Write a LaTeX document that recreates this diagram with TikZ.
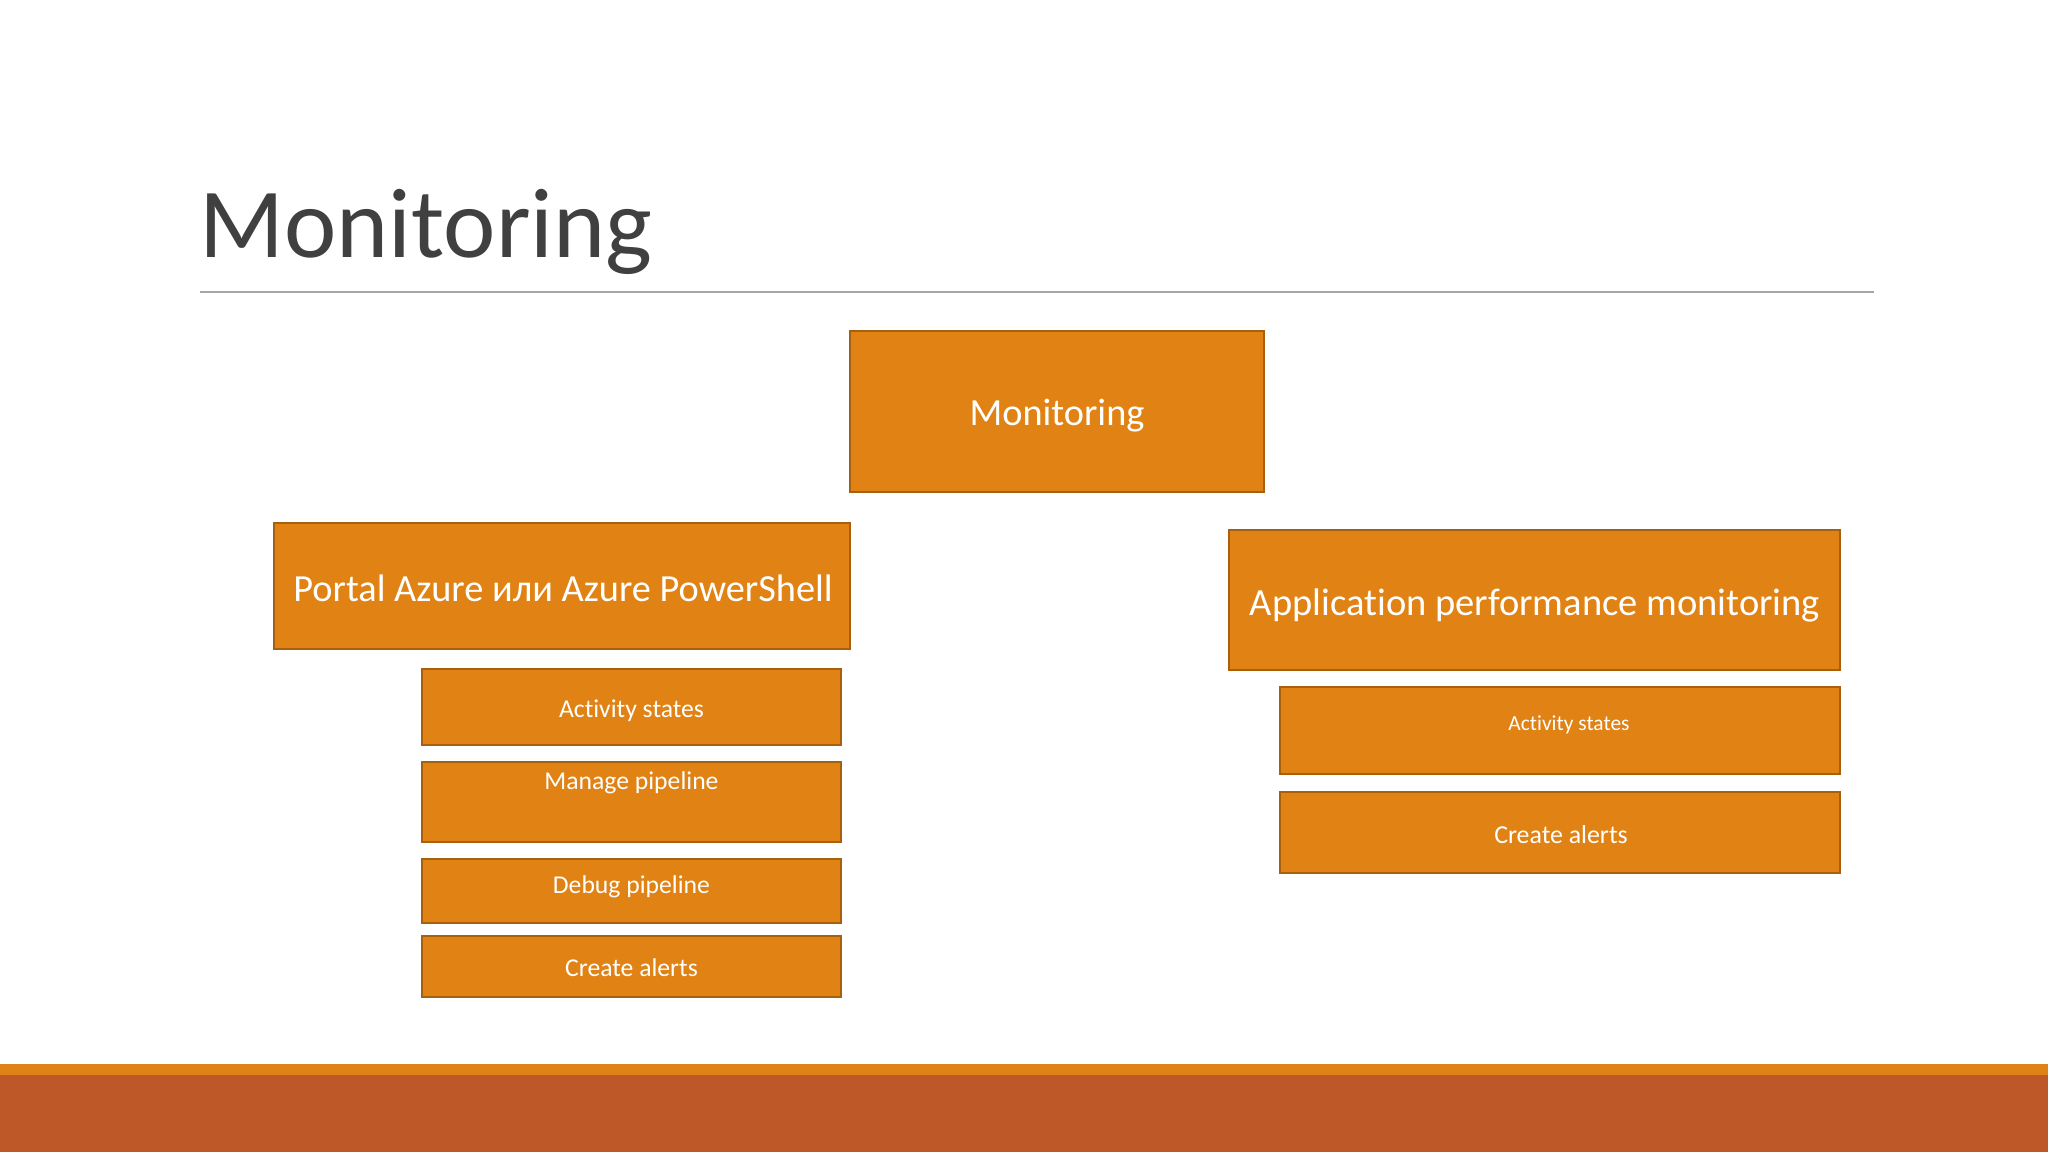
\documentclass[tikz,border=0pt]{standalone}
\usepackage{fontspec}
\setmainfont{Carlito}[Ligatures=NoCommon]
\definecolor{boxfill}{HTML}{E08214}
\definecolor{boxline}{HTML}{A8600E}
\definecolor{bandorange}{HTML}{E08316}
\definecolor{bandbrown}{HTML}{BE5828}
\definecolor{titlegray}{HTML}{404040}
\definecolor{rulegray}{HTML}{A6A6A6}
\tikzset{
  box/.style={draw=boxline, fill=boxfill, line width=0.6pt, inner sep=0pt, anchor=center},
  boxtext/.style={text=white, anchor=base, inner sep=0pt},
}
\begin{document}
\begin{tikzpicture}[x=0.01cm,y=-0.01cm]
\useasboundingbox (0,0) rectangle (2048,1152);
\fill[white] (0,0) rectangle (2048,1152);
% bottom band
\fill[bandbrown] (0,1075) rectangle (2048,1152);
\fill[bandorange] (0,1064) rectangle (2048,1075);
% title
\node[anchor=base west, inner sep=0pt, text=titlegray, font=\fontsize{28.2}{32}\selectfont] (title) at (199,258) {Monitoring};
\coordinate (ruleL) at (200,292);
\coordinate (ruleR) at (1874,292);
\draw[rulegray, line width=0.6pt] (ruleL) -- (ruleR);
% boxes
\node[box, minimum width=4.14cm, minimum height=1.61cm] (top) at (1057,411.5) {};
\node[boxtext, font=\fontsize{10.9}{13}\selectfont] (toptext) at (1057,426) {Monitoring};

\node[box, minimum width=5.76cm, minimum height=1.26cm] (left) at (562,586) {};
\node[boxtext, font=\fontsize{10.9}{13}\selectfont] (lefttext) at (563,602) {Portal Azure или Azure PowerShell};

\node[box, minimum width=6.11cm, minimum height=1.40cm] (right) at (1534.5,600) {};
\node[boxtext, font=\fontsize{10.95}{14}\selectfont] (righttext) at (1535,616) {Application performance monitoring};

\node[box, minimum width=4.19cm, minimum height=0.76cm] (l1) at (631.5,707) {};
\node[boxtext, font=\fontsize{7.3}{9}\selectfont] (l1text) at (631.5,717) {Activity states};
\node[box, minimum width=4.19cm, minimum height=0.80cm] (l2) at (631.5,802) {};
\node[boxtext, font=\fontsize{7.3}{9}\selectfont] (l2text) at (631.5,789) {Manage pipeline};
\node[box, minimum width=4.19cm, minimum height=0.64cm] (l3) at (631.5,891) {};
\node[boxtext, font=\fontsize{7.3}{9}\selectfont] (l3text) at (631.5,893) {Debug pipeline};
\node[box, minimum width=4.19cm, minimum height=0.61cm] (l4) at (631.5,966.5) {};
\node[boxtext, font=\fontsize{7.3}{9}\selectfont] (l4text) at (631.5,976) {Create alerts};

\node[box, minimum width=5.60cm, minimum height=0.87cm] (r1) at (1560,730.5) {};
\node[boxtext, font=\fontsize{6.1}{8}\selectfont] (r1text) at (1569,730) {Activity states};
\node[box, minimum width=5.60cm, minimum height=0.81cm] (r2) at (1560,832.5) {};
\node[boxtext, font=\fontsize{7.35}{9}\selectfont] (r2text) at (1561,843) {Create alerts};
\end{tikzpicture}
\end{document}
